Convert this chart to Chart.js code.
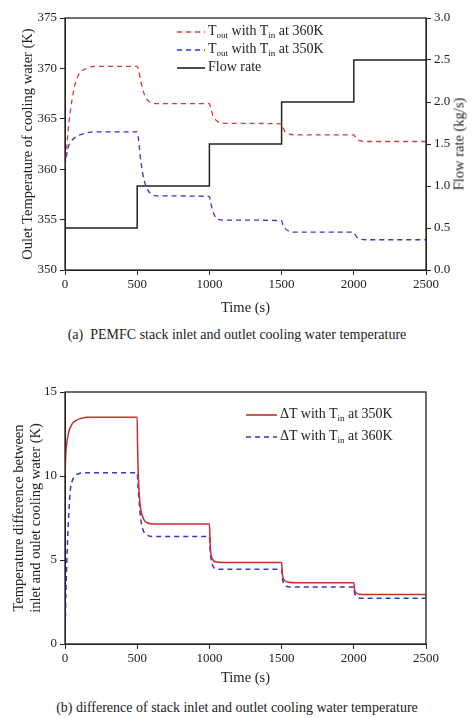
<!DOCTYPE html>
<html>
<head>
<meta charset="utf-8">
<script src="https://cdn.jsdelivr.net/npm/chart.js@4/dist/chart.umd.min.js"></script>
<style>
body { margin: 0; background: #fff; font-family: 'Liberation Serif', serif; color: #222; }
#page { position: relative; width: 474px; height: 718px; overflow: hidden; }
canvas { position: absolute; left: 0; }
.leg { position: absolute; font-size: 14px; white-space: nowrap; line-height: 16px; }
.leg svg { vertical-align: middle; margin-right: 3px; }
.leg sub { font-size: 9px; vertical-align: -3px; }
.cap { position: absolute; width: 474px; text-align: center; font-size: 14px; white-space: nowrap; }
#y1title { position: absolute; font-size: 14.5px; white-space: nowrap; transform: translate(-50%, -50%) rotate(-90deg); left: 459px; top: 144px; }
</style>
</head>
<body>
<div id="page">
  <canvas id="myChart" width="474" height="320" style="top:0"></canvas>
  <canvas id="myChart2" width="474" height="330" style="top:360px"></canvas>

  <div class="leg" style="left:177px; top:23px"><svg width="28" height="4"><line x1="0" y1="2" x2="28" y2="2" stroke="#d23a3a" stroke-width="1.4" stroke-dasharray="5 4"/></svg>T<sub>out</sub> with T<sub>in</sub> at 360K</div>
  <div class="leg" style="left:177px; top:41px"><svg width="28" height="4"><line x1="0" y1="2" x2="28" y2="2" stroke="#3535cc" stroke-width="1.4" stroke-dasharray="5 4"/></svg>T<sub>out</sub> with T<sub>in</sub> at 350K</div>
  <div class="leg" style="left:177px; top:59px"><svg width="28" height="4"><line x1="0" y1="2" x2="28" y2="2" stroke="#222" stroke-width="1.6"/></svg>Flow rate</div>
  <div id="y1title">Flow rate (kg/s)</div>
  <div class="cap" style="top:327px">(a)&nbsp; PEMFC stack inlet and outlet cooling water temperature</div>

  <div class="leg" style="left:246px; top:406px"><svg width="31" height="4"><line x1="0" y1="2" x2="31" y2="2" stroke="#c8302c" stroke-width="1.6"/></svg>ΔT with T<sub>in</sub> at 350K</div>
  <div class="leg" style="left:246px; top:428px"><svg width="31" height="4"><line x1="0" y1="2" x2="31" y2="2" stroke="#3535cc" stroke-width="1.6" stroke-dasharray="5 4"/></svg>ΔT with T<sub>in</sub> at 360K</div>
  <div class="cap" style="top:700px">(b) difference of stack inlet and outlet cooling water temperature</div>
</div>

<script>
const ctx = document.querySelector('#myChart');
const ctx2 = document.querySelector('#myChart2');

// chart (a) - outlet temperature (K), time in s
const tout360Time = [0, 10, 25, 50, 75, 100, 150, 200, 500, 510, 525, 550, 575, 600, 650, 1000, 1010, 1025, 1050, 1100, 1500, 1510, 1525, 1550, 1600, 2000, 2010, 2025, 2050, 2100, 2500];
const tout360 = [360.2, 361.8, 364.3, 367.0, 368.7, 369.5, 370.0, 370.2, 370.2, 369.8, 368.7, 367.4, 366.8, 366.6, 366.5, 366.5, 366.0, 365.3, 364.8, 364.55, 364.5, 364.1, 363.7, 363.5, 363.4, 363.4, 363.2, 362.95, 362.8, 362.75, 362.75];

const tout350Time = [0, 10, 25, 50, 75, 100, 150, 200, 500, 510, 525, 550, 575, 600, 650, 1000, 1010, 1025, 1050, 1100, 1500, 1510, 1525, 1550, 1600, 2000, 2010, 2025, 2050, 2100, 2500];
const tout350 = [360.3, 361.3, 362.3, 362.9, 363.2, 363.4, 363.6, 363.7, 363.7, 362.8, 360.8, 358.8, 357.9, 357.5, 357.35, 357.3, 356.6, 355.8, 355.1, 354.95, 354.9, 354.4, 354.1, 353.85, 353.75, 353.75, 353.5, 353.2, 353.05, 353.0, 353.0];

const flowTime = [0, 500, 500, 1000, 1000, 1500, 1500, 2000, 2000, 2500];
const flowRate = [0.5, 0.5, 1.0, 1.0, 1.5, 1.5, 2.0, 2.0, 2.5, 2.5];

// chart (b) - temperature difference (K)
const dt350Time = [0, 5, 10, 25, 50, 75, 100, 150, 500, 502, 505, 510, 520, 530, 550, 575, 600, 1000, 1005, 1010, 1025, 1050, 1100, 1500, 1505, 1510, 1525, 1550, 1600, 2000, 2005, 2010, 2025, 2050, 2500];
const dt350 = [10.0, 11.2, 11.8, 12.6, 13.1, 13.3, 13.4, 13.5, 13.5, 12.0, 10.8, 9.5, 8.3, 7.8, 7.35, 7.2, 7.15, 7.15, 6.0, 5.4, 5.0, 4.88, 4.85, 4.85, 4.2, 3.95, 3.75, 3.68, 3.65, 3.65, 3.25, 3.1, 3.0, 2.95, 2.95];

const dt360Time = [0, 5, 12, 23, 35, 50, 75, 100, 150, 500, 505, 515, 525, 540, 565, 600, 1000, 1005, 1015, 1030, 1060, 1500, 1505, 1515, 1530, 1560, 2000, 2005, 2015, 2030, 2060, 2500];
const dt360 = [0.0, 2.5, 4.8, 7.2, 9.0, 9.7, 10.05, 10.15, 10.2, 10.2, 9.5, 8.3, 7.4, 6.8, 6.5, 6.4, 6.4, 5.6, 4.9, 4.55, 4.45, 4.45, 3.95, 3.6, 3.45, 3.4, 3.4, 3.05, 2.85, 2.75, 2.72, 2.72];

const timeTicks = [0, 500, 1000, 1500, 2000, 2500];

function toPoints(xs, ys) {
    return xs.map((x, i) => ({ x: x, y: ys[i] }));
}

const font = { family: 'Liberation Serif', size: 13 };
const titleFont = { family: 'Liberation Serif', size: 14.5 };

const framePlugin = {
    id: 'frame',
    afterDraw(chart) {
        const a = chart.chartArea;
        const c = chart.ctx;
        c.save();
        c.strokeStyle = '#222';
        c.lineWidth = 1.3;
        c.strokeRect(a.left, a.top, a.right - a.left, a.bottom - a.top);
        c.restore();
    }
};

Chart.defaults.color = '#222';
Chart.defaults.animation = false;

function xScale(h) {
    return {
        type: 'linear',
        min: 0,
        max: 2500,
        afterBuildTicks: s => { s.ticks = timeTicks.map(v => ({ value: v })); },
        ticks: { font: font, padding: 2, maxRotation: 0, callback: v => String(v) },
        grid: { drawOnChartArea: false, color: '#222', tickLength: 5 },
        border: { color: '#222' },
        title: { display: true, text: 'Time (s)', font: titleFont, padding: { top: 0, bottom: 3 } },
        afterFit: s => { s.height = h; }
    };
}

new Chart(ctx, {
    type: 'line',
    data: {
        datasets: [{
            data: toPoints(tout360Time, tout360),
            borderColor: '#d23a3a',
            borderWidth: 1.3,
            borderDash: [5, 4],
            pointRadius: 0,
            cubicInterpolationMode: 'monotone',
            yAxisID: 'y'
        }, {
            data: toPoints(tout350Time, tout350),
            borderColor: '#3535cc',
            borderWidth: 1.3,
            borderDash: [5, 4],
            pointRadius: 0,
            cubicInterpolationMode: 'monotone',
            yAxisID: 'y'
        }, {
            data: toPoints(flowTime, flowRate),
            borderColor: '#222',
            borderWidth: 1.5,
            pointRadius: 0,
            tension: 0,
            yAxisID: 'y1'
        }]
    },
    options: {
        responsive: false,
        devicePixelRatio: 1,
        layout: { padding: { top: 18, left: 0, right: 0, bottom: 0 } },
        plugins: { legend: { display: false }, tooltip: { enabled: false } },
        scales: {
            x: xScale(50),
            y: {
                type: 'linear',
                position: 'left',
                min: 350,
                max: 375,
                ticks: { stepSize: 5, font: font, padding: 3 },
                grid: { drawOnChartArea: false, color: '#222', tickLength: 5 },
                border: { color: '#222' },
                title: { display: true, text: 'Oulet Temperature of cooling water (K)', font: titleFont, padding: { top: 19, bottom: 0 } },
                afterFit: s => { s.width = 65; }
            },
            y1: {
                type: 'linear',
                position: 'right',
                min: 0,
                max: 3,
                ticks: { stepSize: 0.5, font: font, padding: 3, callback: v => v.toFixed(1) },
                grid: { drawOnChartArea: false, color: '#222', tickLength: 5 },
                border: { color: '#222' },
                afterFit: s => { s.width = 48; }
            }
        }
    },
    plugins: [framePlugin]
});

new Chart(ctx2, {
    type: 'line',
    data: {
        datasets: [{
            data: toPoints(dt350Time, dt350),
            borderColor: '#c8302c',
            borderWidth: 1.5,
            pointRadius: 0,
            cubicInterpolationMode: 'monotone'
        }, {
            data: toPoints(dt360Time, dt360),
            borderColor: '#3535cc',
            borderWidth: 1.5,
            borderDash: [5, 4],
            pointRadius: 0,
            cubicInterpolationMode: 'monotone'
        }]
    },
    options: {
        responsive: false,
        devicePixelRatio: 1,
        layout: { padding: { top: 32, left: 0, right: 48, bottom: 0 } },
        plugins: { legend: { display: false }, tooltip: { enabled: false } },
        scales: {
            x: xScale(46),
            y: {
                type: 'linear',
                min: 0,
                max: 15,
                ticks: { stepSize: 5, font: font, padding: 3 },
                grid: { drawOnChartArea: false, color: '#222', tickLength: 5 },
                border: { color: '#222' },
                title: { display: true, text: ['Temperature difference between', 'inlet and oulet cooling water (K)'], font: titleFont, padding: { top: 10, bottom: 0 } },
                afterFit: s => { s.width = 65; }
            }
        }
    },
    plugins: [framePlugin]
});
</script>
</body>
</html>
